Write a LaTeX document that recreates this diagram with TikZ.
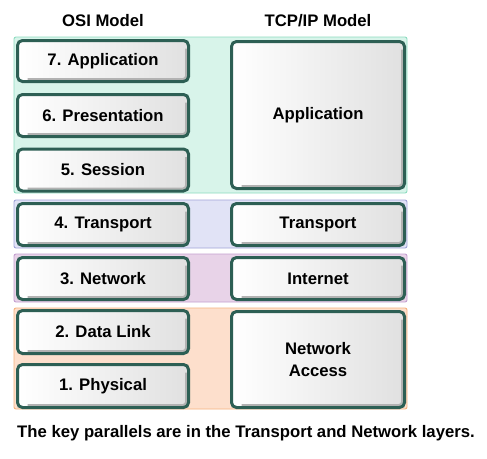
\documentclass[tikz,border=0pt]{standalone}
\usepackage{fontspec}
\setmainfont{Liberation Sans}
\definecolor{boxline}{HTML}{2D5F54}
\definecolor{gfill}{HTML}{D8F4EA}\definecolor{gline}{HTML}{8EDCC0}
\definecolor{bfill}{HTML}{E1E3F6}\definecolor{bline}{HTML}{A0A4D8}
\definecolor{pfill}{HTML}{E8D3E8}\definecolor{pline}{HTML}{C4A0D0}
\definecolor{ofill}{HTML}{FDDFCC}\definecolor{oline}{HTML}{F6B27E}
\begin{document}
\begin{tikzpicture}[x=1pt,y=-1pt,
  band/.style={line width=0.9pt, rounded corners=2pt},
  layerbox/.style={draw=boxline, line width=3pt, rounded corners=5pt,
    left color=white, right color=black!12, inner sep=0pt, align=center,
    font=\fontsize{16.7}{20}\selectfont\bfseries,
    path picture={\draw[black!30, line width=2pt, rounded corners=3pt]
      ([xshift=-2.5pt,yshift=-8pt]path picture bounding box.north east)
      -- ([xshift=-2.5pt,yshift=2.5pt]path picture bounding box.south east)
      -- ([xshift=10pt,yshift=2.5pt]path picture bounding box.south west);}},
  osi/.style={layerbox, minimum width=171pt},
  tcp/.style={layerbox, minimum width=173pt},
  title/.style={font=\fontsize{16.7}{20}\selectfont\bfseries}]
\useasboundingbox (0,0) rectangle (487,458);
\fill[white] (0,0) rectangle (487,458);
% bands
\draw[band, fill=gfill, draw=gline] (14,37) rectangle (407,193);
\draw[band, fill=bfill, draw=bline] (14,200) rectangle (407,248);
\draw[band, fill=pfill, draw=pline] (14,254) rectangle (407,302);
\draw[band, fill=ofill, draw=oline] (14,308) rectangle (407,409);
% titles
\node[title] (osititle) at (103,20.5) {OSI Model};
\node[title] (tcptitle) at (318,20.5) {TCP/IP Model};
% OSI layers
\node[osi, minimum height=41pt] (l7) at (103,61) {7. Application};
\node[osi, minimum height=42pt] (l6) at (103,115.5) {6. Presentation};
\node[osi, minimum height=42pt] (l5) at (103,170) {5. Session};
\node[osi, minimum height=42pt] (l4) at (103,224.5) {4. Transport};
\node[osi, minimum height=42pt] (l3) at (103,278.5) {3. Network};
\node[osi, minimum height=43pt] (l2) at (103,332) {2. Data Link};
\node[osi, minimum height=43pt] (l1) at (103,386) {1. Physical};
% TCP/IP layers
\node[tcp, minimum height=147pt] (tapp) at (318,115) {Application};
\node[tcp, minimum height=42pt] (ttr) at (318,224.5) {Transport};
\node[tcp, minimum height=42pt] (tint) at (318,278.5) {Internet};
\node[tcp, minimum height=96pt] (tna) at (318,359.5) {Network\\[2pt]Access};
% caption
\node[title] (caption) at (246,433) {The key parallels are in the Transport and Network layers.};
\end{tikzpicture}
\end{document}
